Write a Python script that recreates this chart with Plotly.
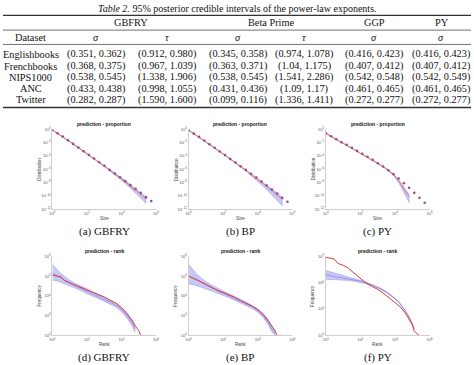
import plotly.graph_objects as go

W, H = 474, 365

# ---------------- table data ----------------
table_title = "<i>Table 2.</i> 95% posterior credible intervals of the power-law exponents."
model_headers = ["GBFRY", "Beta Prime", "GGP", "PY"]
param_headers = ["<i>σ</i>", "<i>τ</i>", "<i>σ</i>", "<i>τ</i>", "<i>σ</i>", "<i>σ</i>"]
datasets = ["Englishbooks", "Frenchbooks", "NIPS1000", "ANC", "Twitter"]
intervals = [
    ["(0.351, 0.362)", "(0.912, 0.980)", "(0.345, 0.358)", "(0.974, 1.078)", "(0.416, 0.423)", "(0.416, 0.423)"],
    ["(0.368, 0.375)", "(0.967, 1.039)", "(0.363, 0.371)", "(1.04, 1.175)", "(0.407, 0.412)", "(0.407, 0.412)"],
    ["(0.538, 0.545)", "(1.338, 1.906)", "(0.538, 0.545)", "(1.541, 2.286)", "(0.542, 0.548)", "(0.542, 0.549)"],
    ["(0.433, 0.438)", "(0.998, 1.055)", "(0.431, 0.436)", "(1.09, 1.17)", "(0.461, 0.465)", "(0.461, 0.465)"],
    ["(0.282, 0.287)", "(1.590, 1.600)", "(0.099, 0.116)", "(1.336, 1.411)", "(0.272, 0.277)", "(0.272, 0.277)"],
]

# ---------------- plot data: proportion vs size ----------------
sizes = [1, 2, 4, 8, 16, 32, 64, 128, 256, 512, 1024, 2048, 4096, 8192,
         16384, 32768, 65536, 131072, 262144, 524288]

gbfry_prop_obs = [7.9e-1, 2.5e-1, 7.9e-2, 2.2e-2, 6.3e-3, 1.8e-3, 5.0e-4, 1.4e-4, 4.0e-5, 1.1e-5,
                  3.2e-6, 7.9e-7, 2.2e-7, 6.3e-8, 1.6e-8, 4.0e-9, 1.1e-9, 2.8e-10, 6.3e-11, 1.6e-11]
gbfry_prop_mid = [7.6e-1, 2.4e-1, 7.6e-2, 2.2e-2, 6.3e-3, 1.8e-3, 5.0e-4, 1.4e-4, 4.0e-5, 1.1e-5,
                  3.2e-6, 8.3e-7, 2.2e-7, 5.6e-8, 1.4e-8, 3.2e-9, 7.9e-10, 1.8e-10, 3.5e-11]
gbfry_prop_lo = [7.1e-1, 2.2e-1, 7.1e-2, 2.0e-2, 5.9e-3, 1.6e-3, 4.6e-4, 1.3e-4, 3.5e-5, 9.5e-6,
                 2.5e-6, 6.3e-7, 1.5e-7, 3.4e-8, 7.4e-9, 1.4e-9, 2.8e-10, 5.0e-11, 7.9e-12]
gbfry_prop_hi = [8.1e-1, 2.6e-1, 8.1e-2, 2.3e-2, 6.8e-3, 1.9e-3, 5.5e-4, 1.6e-4, 4.6e-5, 1.3e-5,
                 3.8e-6, 1.0e-6, 3.0e-7, 7.9e-8, 2.1e-8, 5.0e-9, 1.3e-9, 3.2e-10, 7.1e-11]

bp_prop_obs = [7.1e-1, 2.2e-1, 7.1e-2, 2.0e-2, 5.6e-3, 1.6e-3, 4.5e-4, 1.3e-4, 3.5e-5, 1.0e-5,
               2.8e-6, 7.9e-7, 2.0e-7, 5.6e-8, 1.4e-8, 3.5e-9, 8.9e-10, 2.2e-10, 5.0e-11, 1.3e-11]
bp_prop_mid = [6.9e-1, 2.2e-1, 6.9e-2, 1.9e-2, 5.5e-3, 1.5e-3, 4.4e-4, 1.2e-4, 3.5e-5, 9.8e-6,
               2.7e-6, 7.4e-7, 1.9e-7, 5.0e-8, 1.2e-8, 2.8e-9, 6.3e-10, 1.4e-10, 2.8e-11]
bp_prop_lo = [6.5e-1, 2.0e-1, 6.5e-2, 1.8e-2, 5.1e-3, 1.4e-3, 4.1e-4, 1.1e-4, 3.0e-5, 8.1e-6,
              2.0e-6, 4.9e-7, 1.1e-7, 2.3e-8, 4.6e-9, 8.5e-10, 1.4e-10, 2.2e-11, 3.2e-12]
bp_prop_hi = [7.4e-1, 2.3e-1, 7.4e-2, 2.1e-2, 5.9e-3, 1.7e-3, 4.7e-4, 1.3e-4, 3.7e-5, 1.0e-5,
              3.0e-6, 8.7e-7, 2.3e-7, 6.6e-8, 1.7e-8, 4.5e-9, 1.1e-9, 2.8e-10, 6.3e-11]

py_prop_obs = [2.5e-1, 8.9e-2, 3.2e-2, 1.1e-2, 4.5e-3, 1.6e-3, 5.6e-4, 2.0e-4, 7.1e-5, 2.5e-5,
               7.9e-6, 2.5e-6, 7.1e-7, 1.8e-7, 4.0e-8, 7.9e-9, 1.6e-9, 2.8e-10, 5.0e-11, 8.9e-12]
py_prop_mid = [2.4e-1, 8.5e-2, 3.0e-2, 1.1e-2, 4.3e-3, 1.5e-3, 5.4e-4, 1.9e-4, 6.8e-5, 2.4e-5,
               7.9e-6, 2.5e-6, 7.1e-7, 1.6e-7, 1.8e-8, 1.3e-9, 7.9e-11]
py_prop_lo = [2.2e-1, 7.9e-2, 2.8e-2, 1.0e-2, 4.0e-3, 1.4e-3, 5.0e-4, 1.8e-4, 6.3e-5, 2.2e-5,
              7.2e-6, 2.2e-6, 6.0e-7, 1.2e-7, 8.9e-9, 3.2e-10, 1.0e-11]
py_prop_hi = [2.6e-1, 9.1e-2, 3.2e-2, 1.1e-2, 4.6e-3, 1.6e-3, 5.8e-4, 2.0e-4, 7.2e-5, 2.6e-5,
              8.7e-6, 2.8e-6, 8.1e-7, 1.9e-7, 2.5e-8, 2.2e-9, 1.8e-10]

# ---------------- plot data: frequency vs rank ----------------
ranks = [1, 2, 3, 5, 10, 20, 50, 100, 200, 500, 1000, 2000, 5000, 10000,
         20000, 40000, 60000, 100000, 130000, 250000]

gbfry_freq_obs = [1260000, 1000000, 890000, 350000, 220000, 130000, 63000, 40000, 25000, 12600,
                  7900, 4000, 1800, 630, 180, 35, 10, 3, 1, 1]
gbfry_freq_mid = [2.0e6, 1.0e6, 7.1e5, 4.0e5, 2.0e5, 1.1e5, 5.2e4, 3.0e4, 1.7e4, 8.3e3,
                  5.0e3, 2.5e3, 1.1e3, 4.2e2, 1.1e2, 20, 4.8]
gbfry_freq_lo = [4.0e5, 3.2e5, 2.5e5, 1.8e5, 1.0e5, 6.3e4, 3.2e4, 1.8e4, 1.0e4, 5.0e3,
                 3.2e3, 1.6e3, 7.1e2, 2.5e2, 63, 10, 2.2]
gbfry_freq_hi = [1.6e7, 4.0e6, 2.0e6, 1.0e6, 4.0e5, 2.0e5, 8.9e4, 5.0e4, 2.8e4, 1.4e4,
                 7.9e3, 4.0e3, 1.8e3, 7.1e2, 2.0e2, 40, 10]

bp_freq_obs = [1000000, 630000, 430000, 280000, 140000, 79000, 35000, 22000, 14000, 7100,
               3500, 2000, 890, 400, 140, 32, 10, 3, 1, 1]
bp_freq_mid = [1.0e6, 6.3e5, 4.0e5, 2.5e5, 1.3e5, 7.1e4, 3.2e4, 1.9e4, 1.1e4, 5.6e3,
               3.0e3, 1.7e3, 7.6e2, 3.3e2, 1.1e2, 22, 5.6, 1.8]
bp_freq_lo = [1.6e5, 1.3e5, 1.0e5, 7.9e4, 5.6e4, 3.5e4, 1.8e4, 1.1e4, 7.1e3, 3.5e3,
              2.0e3, 1.1e3, 5.0e2, 2.2e2, 71, 13, 2.8, 1.0]
bp_freq_hi = [1.6e7, 3.2e6, 1.6e6, 7.9e5, 2.8e5, 1.4e5, 5.6e4, 3.2e4, 1.8e4, 8.9e3,
              4.5e3, 2.5e3, 1.1e3, 5.0e2, 1.8e2, 40, 11, 3.2]

py_freq_obs = [7.9e8, 6.3e8, 5.2e8, 1.6e8, 1.0e8, 4.5e7, 1.0e7, 2.8e6, 1.0e6, 3.5e5,
               1.8e5, 7.1e4, 1.6e4, 5.6e3, 1.8e3, 3.5e2, 1.0e2, 16, 3, 1]
py_freq_mid = [7.9e6, 6.3e6, 5.6e6, 4.8e6, 3.7e6, 2.8e6, 2.0e6, 1.5e6, 1.0e6, 5.2e5,
               3.0e5, 1.5e5, 4.7e4, 1.6e4, 4.0e3, 6.3e2, 1.8e2, 22, 6.3]
py_freq_lo = [2.5e6, 2.4e6, 2.3e6, 2.2e6, 2.0e6, 1.8e6, 1.4e6, 1.1e6, 7.9e5, 4.5e5,
              2.6e5, 1.3e5, 4.2e4, 1.4e4, 3.5e3, 5.6e2, 1.6e2, 20, 5.6]
py_freq_hi = [2.5e7, 1.8e7, 1.4e7, 1.0e7, 7.1e6, 4.5e6, 2.8e6, 2.0e6, 1.3e6, 6.3e5,
              3.5e5, 1.8e5, 5.2e4, 1.8e4, 4.5e3, 7.1e2, 2.0e2, 25, 7.1]

# ---------------- tick labels ----------------
x_tickvals = [1, 1e2, 1e4, 1e6]
x_ticktext = ["10<sup>0</sup>", "10<sup>2</sup>", "10<sup>4</sup>", "10<sup>6</sup>"]
prop_tickvals = [1e-12, 1e-10, 1e-8, 1e-6, 1e-4, 1e-2, 1]
prop_ticktext = ["10<sup>−12</sup>", "10<sup>−10</sup>", "10<sup>−8</sup>", "10<sup>−6</sup>",
                 "10<sup>−4</sup>", "10<sup>−2</sup>", "10<sup>0</sup>"]
freq_tickvals = [1, 1e2, 1e4, 1e6, 1e8]
freq_ticktext = ["10<sup>0</sup>", "10<sup>2</sup>", "10<sup>4</sup>", "10<sup>6</sup>", "10<sup>8</sup>"]
freq3_tickvals = [1, 1e3, 1e6, 1e9]
freq3_ticktext = ["10<sup>0</sup>", "10<sup>3</sup>", "10<sup>6</sup>", "10<sup>9</sup>"]

captions = ["(a) GBFRY", "(b) BP", "(c) PY", "(d) GBFRY", "(e) BP", "(f) PY"]

# ---------------- styling / layout helpers ----------------
def px(x):
    return x / W

def py(y):
    return 1 - y / H

SERIF = "Liberation Serif, Times New Roman, serif"
SANS = "Liberation Sans, Arial, sans-serif"
BAND = "rgba(110,110,235,0.38)"
RED = "#d43c3c"

col_left = [50, 188, 327]
col_w = 105
row1 = (128, 209)
row2 = (257, 337)

fig = go.Figure()
layout = dict(width=W, height=H, margin=dict(l=0, r=0, t=0, b=0), autosize=False,
              paper_bgcolor="white", plot_bgcolor="white", showlegend=False)

prop_sets = [
    (gbfry_prop_obs, gbfry_prop_mid, gbfry_prop_lo, gbfry_prop_hi),
    (bp_prop_obs, bp_prop_mid, bp_prop_lo, bp_prop_hi),
    (py_prop_obs, py_prop_mid, py_prop_lo, py_prop_hi),
]
freq_sets = [
    (gbfry_freq_obs, gbfry_freq_mid, gbfry_freq_lo, gbfry_freq_hi),
    (bp_freq_obs, bp_freq_mid, bp_freq_lo, bp_freq_hi),
    (py_freq_obs, py_freq_mid, py_freq_lo, py_freq_hi),
]

annotations = []
shapes = []

def axis_common():
    return dict(type="log", showgrid=False, zeroline=False, showline=True,
                linecolor="#cfcfcf", linewidth=1, ticks="",
                tickfont=dict(size=4, color="#555", family=SANS))

for i in range(6):
    n = i + 1
    col = i % 3
    top, bot = row1 if i < 3 else row2
    xs = "x" if n == 1 else f"x{n}"
    ys = "y" if n == 1 else f"y{n}"
    xa = axis_common()
    xa.update(domain=[px(col_left[col]), px(col_left[col] + col_w)], range=[0, 6],
              anchor=ys, tickvals=x_tickvals, ticktext=x_ticktext)
    ya = axis_common()
    ya.update(domain=[py(bot), py(top)], anchor=xs)
    if i < 3:
        ya.update(range=[-12, 0], tickvals=prop_tickvals, ticktext=prop_ticktext)
        obs, mid, lo, hi = prop_sets[col]
        xv = sizes
    else:
        obs, mid, lo, hi = freq_sets[col]
        xv = ranks
        if col == 2:
            ya.update(range=[0, 9], tickvals=freq3_tickvals, ticktext=freq3_ticktext)
        else:
            ya.update(range=[0, 8], tickvals=freq_tickvals, ticktext=freq_ticktext)
    layout["xaxis" if n == 1 else f"xaxis{n}"] = xa
    layout["yaxis" if n == 1 else f"yaxis{n}"] = ya

    m = len(mid)
    bx = list(xv[:m]) + list(xv[:m])[::-1]
    by = list(hi) + list(lo)[::-1]
    fig.add_trace(go.Scatter(x=bx, y=by, fill="toself", fillcolor=BAND,
                             line=dict(width=0.5, color="rgba(100,100,220,0.55)"),
                             mode="lines", xaxis=xs, yaxis=ys, hoverinfo="skip"))
    if i < 3:
        fig.add_trace(go.Scatter(x=xv[:m], y=mid, mode="lines",
                                 line=dict(color="#e4687a", width=0.9),
                                 xaxis=xs, yaxis=ys))
        fig.add_trace(go.Scatter(x=xv, y=obs, mode="markers",
                                 marker=dict(size=2.6, color="#9a4f78"),
                                 xaxis=xs, yaxis=ys))
    else:
        fig.add_trace(go.Scatter(x=xv[:m], y=mid, mode="lines",
                                 line=dict(color="rgba(150,110,210,0.9)", width=0.7),
                                 xaxis=xs, yaxis=ys))
        fig.add_trace(go.Scatter(x=xv, y=obs, mode="lines",
                                 line=dict(color=RED, width=1, shape="linear"),
                                 xaxis=xs, yaxis=ys))

    cx = col_left[col] + col_w / 2
    title = "prediction - proportion" if i < 3 else "prediction - rank"
    ty = 123 if i < 3 else 251
    annotations.append(dict(x=px(cx), y=py(ty), xref="paper", yref="paper", text=f"<b>{title}</b>",
                            showarrow=False, font=dict(size=5, family=SANS, color="#111"),
                            xanchor="center", yanchor="middle"))
    xl = "Size" if i < 3 else "Rank"
    xly = 218 if i < 3 else 346
    annotations.append(dict(x=px(cx), y=py(xly), xref="paper", yref="paper", text=xl,
                            showarrow=False, font=dict(size=4.5, family=SANS, color="#444"),
                            xanchor="center", yanchor="middle"))
    yl = "Distribution" if i < 3 else "Frequency"
    annotations.append(dict(x=px(col_left[col] - 13), y=py((top + bot) / 2), xref="paper", yref="paper",
                            text=yl, textangle=-90, showarrow=False,
                            font=dict(size=4.5, family=SANS, color="#444"),
                            xanchor="center", yanchor="middle"))
    cy = 232 if i < 3 else 359
    annotations.append(dict(x=px(cx), y=py(cy), xref="paper", yref="paper", text=captions[i],
                            showarrow=False, font=dict(size=11, family=SERIF, color="#111"),
                            xanchor="center", yanchor="middle"))

# ---------------- table ----------------
TF = 10.3
annotations.append(dict(x=px(237), y=py(6), xref="paper", yref="paper", text=table_title,
                        showarrow=False, font=dict(size=10, family=SERIF, color="#111"),
                        xanchor="center", yanchor="middle"))
header_x = [130, 271.5, 376, 445]
for hx, t in zip(header_x, model_headers):
    annotations.append(dict(x=px(hx), y=py(20), xref="paper", yref="paper", text=t,
                            showarrow=False, font=dict(size=TF, family=SERIF, color="#111"),
                            xanchor="center", yanchor="middle"))
col_x = [28, 94, 166, 238, 305, 376, 444]
for cxp, t in zip(col_x, ["Dataset"] + param_headers):
    annotations.append(dict(x=px(cxp), y=py(35), xref="paper", yref="paper", text=t,
                            showarrow=False, font=dict(size=TF, family=SERIF, color="#111"),
                            xanchor="center", yanchor="middle"))
row_y = [52, 64, 75.5, 87, 98]
for ry, name, vals in zip(row_y, datasets, intervals):
    for cxp, t in zip(col_x, [name] + vals):
        annotations.append(dict(x=px(cxp), y=py(ry), xref="paper", yref="paper", text=t,
                                showarrow=False, font=dict(size=TF, family=SERIF, color="#111"),
                                xanchor="center", yanchor="middle"))
for ly, lw in [(12.5, 1.4), (27.5, 0.7), (42, 0.7), (106, 1.4)]:
    shapes.append(dict(type="line", xref="paper", yref="paper", x0=0, x1=1,
                       y0=py(ly), y1=py(ly), line=dict(color="#333", width=lw)))

layout["annotations"] = annotations
layout["shapes"] = shapes
fig.update_layout(**layout)
fig.write_html("out.html",
               config={"displayModeBar": False},
               post_script="document.body.style.margin='0';document.body.style.padding='0';"
                           "document.body.style.overflow='hidden';")
